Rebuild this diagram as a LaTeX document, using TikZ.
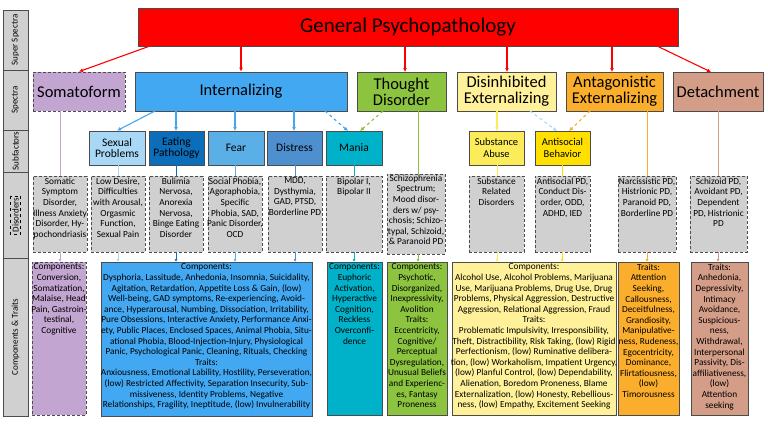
\documentclass[tikz,border=0pt]{standalone}
\usepackage{fontspec}
\setmainfont{Carlito}
\usetikzlibrary{arrows.meta}
\begin{document}
\begin{tikzpicture}[x=1pt,y=-1pt,
  bx/.style={draw=black!70,line width=0.8pt,inner sep=0},
  dbx/.style={bx,dashed,dash pattern=on 3pt off 2pt},
  txt/.style={align=center,inner sep=0,font=\fontsize{9.3}{10.6}\selectfont},
  big/.style={font=\fontsize{16.5}{16}\selectfont,align=center,inner sep=0},
  mid/.style={font=\fontsize{11.5}{11.5}\selectfont,align=center,inner sep=0},
  lab/.style={txt,rotate=90,font=\fontsize{9}{9}\selectfont},
  ar/.style={-{Latex[length=4pt,width=4pt]},line width=1.1pt},
  sar/.style={-{Latex[length=3pt,width=3pt]},line width=0.8pt},
  ln/.style={line width=0.8pt}]
\definecolor{gred}{HTML}{FF0000}
\definecolor{som}{HTML}{C3A5D2}
\definecolor{intc}{HTML}{42A8F2}
\definecolor{thc}{HTML}{8CC43F}
\definecolor{disc}{HTML}{FFF199}
\definecolor{antc}{HTML}{FBAE2C}
\definecolor{detc}{HTML}{D49D88}
\definecolor{sexc}{HTML}{A8D8F6}
\definecolor{eatc}{HTML}{0B6EBB}
\definecolor{fearc}{HTML}{5AAFE6}
\definecolor{disr}{HTML}{4E8FCF}
\definecolor{manc}{HTML}{00B2C9}
\definecolor{subc}{HTML}{FCEC5A}
\definecolor{asc}{HTML}{FFE000}
\definecolor{grc}{HTML}{D0D0D0}
\useasboundingbox (0,0) rectangle (768,432);
\fill[white] (0,0) rectangle (768,432);
% macros
\newcommand\mybox[7]{\node[#6,minimum width={#4-#2},minimum height={#5-#3}] (#1) at ({(#2+#4)/2},{(#3+#5)/2}) {#7};}
\newcommand\topbox[7]{\node[#6,minimum width={#4-#2},minimum height={#5-#3}] (#1) at ({(#2+#4)/2},{(#3+#5)/2}) {};
  \node[txt,anchor=north] at ([yshift=-2pt]#1.north) {#7};}
% left column
\node[bx,fill=grc,minimum width=25,minimum height=60] (ls) at (15.5,40) {};
\node[bx,fill=grc,minimum width=25,minimum height=60] (lsp) at (15.5,100) {};
\node[bx,fill=grc,minimum width=25,minimum height=42] (lsf) at (15.5,151) {};
\node[bx,fill=grc,minimum width=25,minimum height=86] (ld) at (15.5,215) {};
\node[bx,fill=grc,minimum width=25,minimum height=158] (lc) at (15.5,337) {};
\node[lab] at (ls) {Super Spectra};
\node[lab] at (lsp) {Spectra};
\node[lab] at (lsf) {Subfactors};
\node[lab,draw,dashed,inner sep=2pt] at (ld) {Disorders};
\node[lab] at (lc) {Components \& Traits};
% top
\mybox{gen}{138}{8}{678}{46}{bx,fill=gred}{\fontsize{21}{21}\selectfont General Psychopathology}
% spectra
\mybox{som}{33}{72}{125}{111}{dbx,fill=som,big}{Somatoform}
\mybox{int}{135}{72}{347}{111}{bx,fill=intc,big}{Internalizing}
\mybox{tho}{357}{72}{446}{111}{bx,fill=thc,big}{Thought\\Disorder}
\mybox{dis}{457}{72}{556}{111}{bx,fill=disc,big}{Disinhibited\\Externalizing}
\mybox{ant}{566}{72}{663}{111}{bx,fill=antc,big}{Antagonistic\\Externalizing}
\mybox{det}{673}{72}{763}{111}{bx,fill=detc,big}{Detachment}
% subfactors
\mybox{sex}{89}{131}{145}{165}{bx,fill=sexc,mid}{Sexual\\Problems}
\mybox{eat}{149}{131}{204}{165}{bx,fill=eatc,mid}{Eating\\Pathology}
\mybox{fear}{208}{131}{264}{165}{bx,fill=fearc,mid}{Fear}
\mybox{dst}{267}{131}{322}{165}{bx,fill=disr,mid}{Distress}
\mybox{man}{326}{131}{382}{165}{bx,fill=manc,mid}{Mania}
\mybox{sub}{469}{131}{524}{165}{bx,fill=subc,mid,font=\fontsize{10.5}{11.5}\selectfont}{Substance\\Abuse}
\mybox{asb}{535}{131}{590}{165}{bx,fill=asc,mid,font=\fontsize{10.5}{11.5}\selectfont}{Antisocial\\Behavior}
% disorders
\topbox{d1}{33}{176}{87}{252}{dbx,fill=grc}{Somatic\\Symptom\\Disorder,\\Illness Anxiety\\Disorder, Hy-\\pochondriasis}
\topbox{d2}{91}{176}{145}{252}{dbx,fill=grc}{Low Desire,\\Difficulties\\with Arousal,\\Orgasmic\\Function,\\Sexual Pain}
\topbox{d3}{149}{176}{203}{252}{dbx,fill=grc}{Bulimia\\Nervosa,\\Anorexia\\Nervosa,\\Binge Eating\\Disorder}
\topbox{d4}{208}{176}{262}{252}{dbx,fill=grc}{Social Phobia,\\Agoraphobia,\\Specific\\Phobia, SAD,\\Panic Disorder,\\OCD}
\topbox{d5}{268}{176}{322}{252}{dbx,fill=grc}{MDD,\\Dysthymia,\\GAD, PTSD,\\Borderline PD}
\topbox{d6}{326}{176}{382}{252}{dbx,fill=grc}{Bipolar I,\\Bipolar II}
\node[dbx,fill=grc,minimum width=58,minimum height=80] (d7) at (416,214) {};
\node[txt,anchor=north] at ([yshift=-1pt]d7.north) {Schizophrenia\\Spectrum;\\Mood disor-\\ders w/ psy-\\chosis; Schizo-\\typal, Schizoid,\\\& Paranoid PD};
\topbox{d8}{469}{176}{524}{252}{dbx,fill=grc}{Substance\\Related\\Disorders}
\topbox{d9}{535}{176}{590}{252}{dbx,fill=grc}{Antisocial PD,\\Conduct Dis-\\order, ODD,\\ADHD, IED}
\topbox{d10}{618}{176}{676}{252}{dbx,fill=grc}{Narcissistic PD,\\Histrionic PD,\\Paranoid PD,\\Borderline PD}
\topbox{d11}{690}{176}{747}{252}{dbx,fill=grc}{Schizoid PD,\\Avoidant PD,\\Dependent\\PD, Histrionic\\PD}
% components
\topbox{c1}{32}{262}{86}{415}{dbx,fill=som}{Components:\\Conversion,\\Somatization,\\Malaise, Head\\Pain, Gastroin-\\testinal,\\Cognitive}
\topbox{c2}{101}{262}{312}{416}{bx,fill=intc}{Components:\\Dysphoria, Lassitude, Anhedonia, Insomnia, Suicidality,\\Agitation, Retardation, Appetite Loss \& Gain, (low)\\Well-being, GAD symptoms, Re-experiencing, Avoid-\\ance, Hyperarousal, Numbing, Dissociation, Irritability,\\Pure Obsessions, Interactive Anxiety, Performance Anxi-\\ety, Public Places, Enclosed Spaces, Animal Phobia, Situ-\\ational Phobia, Blood-Injection-Injury, Physiological\\Panic, Psychological Panic, Cleaning, Rituals, Checking\\Traits:\\Anxiousness, Emotional Lability, Hostility, Perseveration,\\(low) Restricted Affectivity, Separation Insecurity, Sub-\\missiveness, Identity Problems, Negative\\Relationships, Fragility, Ineptitude, (low) Invulnerability}
\topbox{c3}{327}{262}{382}{415}{bx,fill=manc}{Components:\\Euphoric\\Activation,\\Hyperactive\\Cognition,\\Reckless\\Overconfi-\\dence}
\topbox{c4}{387}{262}{447}{415}{bx,fill=thc}{Components:\\Psychotic,\\Disorganized,\\Inexpressivity,\\Avolition\\Traits:\\Eccentricity,\\Cognitive/\\Perceptual\\Dysregulation,\\Unusual Beliefs\\and Experienc-\\es, Fantasy\\Proneness}
\topbox{c5}{452}{262}{616}{415}{bx,fill=disc}{Components:\\Alcohol Use, Alcohol Problems, Marijuana\\Use, Marijuana Problems, Drug Use, Drug\\Problems, Physical Aggression, Destructive\\Aggression, Relational Aggression, Fraud\\Traits:\\Problematic Impulsivity, Irresponsibility,\\Theft, Distractibility, Risk Taking, (low) Rigid\\Perfectionism, (low) Ruminative delibera-\\tion, (low) Workaholism, Impatient Urgency,\\(low) Planful Control, (low) Dependability,\\Alienation, Boredom Proneness, Blame\\Externalization, (low) Honesty, Rebellious-\\ness, (low) Empathy, Excitement Seeking}
\topbox{c6}{618}{262}{679}{415}{bx,fill=antc}{Traits:\\Attention\\Seeking,\\Callousness,\\Deceitfulness,\\Grandiosity,\\Manipulative-\\ness, Rudeness,\\Egocentricity,\\Dominance,\\Flirtatiousness,\\(low)\\Timorousness}
\topbox{c7}{691}{262}{748}{415}{bx,fill=detc}{Traits:\\Anhedonia,\\Depressivity,\\Intimacy\\Avoidance,\\Suspicious-\\ness,\\Withdrawal,\\Interpersonal\\Passivity, Dis-\\affiliativeness,\\(low)\\Attention\\seeking}
% general arrows
\draw[ar,gred] (150,46) -- (som.north);
\draw[ar,gred] (int.north |- gen.south) -- (int.north);
\draw[ar,gred] (405,46) -- (405,72);
\draw[ar,gred] (507,46) -- (507,72);
\draw[ar,gred] (612,46) -- (612,72);
\draw[ar,gred] (657,46) -- (711,72);
% internalizing arrows
\draw[ar,intc] (155,111) -- (sex.north);
\foreach \n/\x in {eat/176,fear/235,dst/294} \draw[ar,intc] (\x,111) -- (\x,131);
\draw[ar,intc,dashed] (325,111) -- (348,131);
\draw[ar,thc,dashed] (383,111) -- (360,131);
\draw[ar,subc] (497,111) -- (497,131);
\draw[ar,sexc,dashed] (530,111) -- (557,131);
\draw[ar,antc,dashed] (590,111) -- (569,131);
% vertical lines to disorders
\draw[ln,som] (60,111) -- (60,176);
\draw[ln,sexc] (118,165) -- (118,176);
\draw[ln,eatc] (176,165) -- (176,176);
\draw[ln,fearc] (235,165) -- (235,176);
\draw[ln,disr] (295,165) -- (295,176);
\draw[ln,manc] (354,165) -- (354,176);
\draw[ln,thc] (418,111) -- (418,174);
\draw[ln,subc] (497,165) -- (497,176);
\draw[ln,asc] (562,165) -- (562,176);
\draw[ln,antc] (647,111) -- (647,176);
\draw[ln,detc] (718,111) -- (718,176);
% disorders to components
\draw[sar,som] (60,252) -- (60,262);
\draw[sar,sexc] (118,252) -- (118,262);
\draw[sar,eatc] (176,252) -- (176,262);
\draw[sar,fearc] (235,252) -- (235,262);
\draw[sar,disr] (295,252) -- (295,262);
\draw[sar,manc] (354,252) -- (354,262);
\draw[sar,thc] (418,254) -- (418,262);
\draw[sar,subc] (497,252) -- (497,262);
\draw[sar,asc] (562,252) -- (562,262);
\draw[sar,antc] (647,252) -- (647,262);
\draw[sar,detc] (718,252) -- (718,262);
\end{tikzpicture}
\end{document}
